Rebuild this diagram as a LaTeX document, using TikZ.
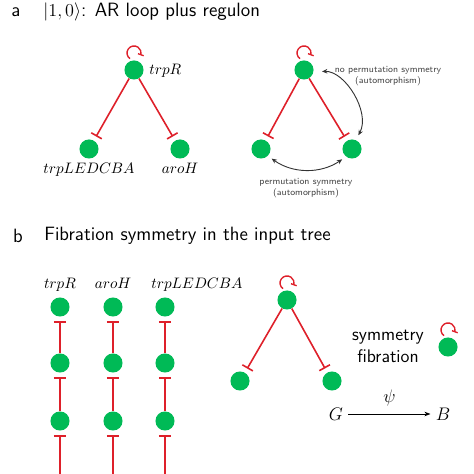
\documentclass[tikz,border=0pt]{standalone}
\usepackage{amsmath,amssymb}
\usepackage{xcolor}
\usepackage{tikz}
\definecolor{genegreen}{RGB}{0,186,86}
\definecolor{inhibred}{RGB}{222,32,42}
\definecolor{notegray}{RGB}{70,70,70}
\usetikzlibrary{calc,positioning,arrows.meta}

\begin{document}
\begin{tikzpicture}[x=0.66pt,y=0.66pt,
  gene/.style={circle,fill=genegreen,minimum size=12.6pt,inner sep=0pt},
  repress/.style={draw=inhibred,line width=1.05pt,-{Bar[width=8pt,line width=1.05pt]},shorten >=3pt},
  selfrep/.style={draw=inhibred,line width=0.9pt,-{Bar[width=4pt,line width=0.9pt]}},
  autom/.style={draw=black!80,line width=0.6pt,{Stealth[length=3.5pt,width=3pt]}-{Stealth[length=3.5pt,width=3pt]}},
  note/.style={font=\fontsize{6.1}{7.3}\selectfont\sffamily,text=notegray,align=center},
  heading/.style={font=\fontsize{12.7}{14}\selectfont\sffamily,inner sep=0pt},
  genename/.style={font=\normalsize,inner sep=0pt}
]
\useasboundingbox (0,0) rectangle (474,474);

% a: AR loop plus regulon
\node[heading] (la) at (16,462) {a};
\node[heading,anchor=west] (ha) at (43,462) {$|1,0\rangle$: AR loop plus regulon};

\node[gene] (aR) at (134,404) {};
\node[gene] (aL) at (89,325) {};
\node[gene] (aH) at (180,325) {};
\node[genename,anchor=base west] (aRlab) at (149,399.5) {$trpR$};
\node[genename,anchor=base] (aLlab) at (89,300.5) {$trpLEDCBA$};
\node[genename,anchor=base] (aHlab) at (180,300.5) {$aroH$};
\draw[repress] (aR) -- (aL);
\draw[repress] (aR) -- (aH);

\node[gene] (sT) at (304,404) {};
\node[gene] (sL) at (261,325) {};
\node[gene] (sR) at (352,325) {};
\draw[repress] (sT) -- (sL);
\draw[repress] (sT) -- (sR);
\draw[autom,shorten <=3.5pt,shorten >=5.5pt] (sR.67) to[bend right=60] (sT.-10);
\draw[autom,shorten <=3pt,shorten >=3pt] (sL.-45) to[bend right=35] (sR.-128);
\node[note] (nA) at (388,397.5) {no permutation symmetry\\(automorphism)};
\node[note] (nB) at (306,286) {permutation symmetry\\(automorphism)};

% b: input trees
\node[heading] (lb) at (18,238) {b};
\node[heading,anchor=west] (hb) at (44,238) {Fibration symmetry in the input tree};

\foreach \x/\c in {60/1,113/2,165/3}{
  \foreach \y/\r in {167/1,111/2,53/3}
    \node[gene] (c\c\r) at (\x,\y) {};
  \coordinate (c\c4) at (\x,0);
  \draw[repress] (c\c2) -- (c\c1);
  \draw[repress] (c\c3) -- (c\c2);
  \draw[repress] (c\c4) -- (c\c3);
}
\node[genename,anchor=base] (t1) at (60,185) {$trpR$};
\node[genename,anchor=base] (t2) at (113,185) {$aroH$};
\node[genename,anchor=base west] (t3) at (151,185) {$trpLEDCBA$};

\node[gene] (fT) at (287,174) {};
\node[gene] (fL) at (240,93) {};
\node[gene] (fR) at (332,93) {};
\draw[repress] (fT) -- (fL);
\draw[repress] (fT) -- (fR);

\node[gene] (fib) at (448,127) {};
\node[font=\fontsize{12}{14.5}\selectfont\sffamily,align=center] (fibtxt) at (388,128) {symmetry\\fibration};

\node[font=\large] (G) at (336,60) {$G$};
\node[font=\large] (B) at (443,60) {$B$};
\draw[-{Stealth[length=4pt]},line width=0.5pt] (G) -- node[above=2pt,font=\large] (psi) {$\psi$} (B);

\foreach \n in {aR,sT,fT,fib}
  \draw[selfrep] ($(\n)+(-4,11.3)$) arc[start angle=235,end angle=-20,radius=7];
\end{tikzpicture}
\end{document}
